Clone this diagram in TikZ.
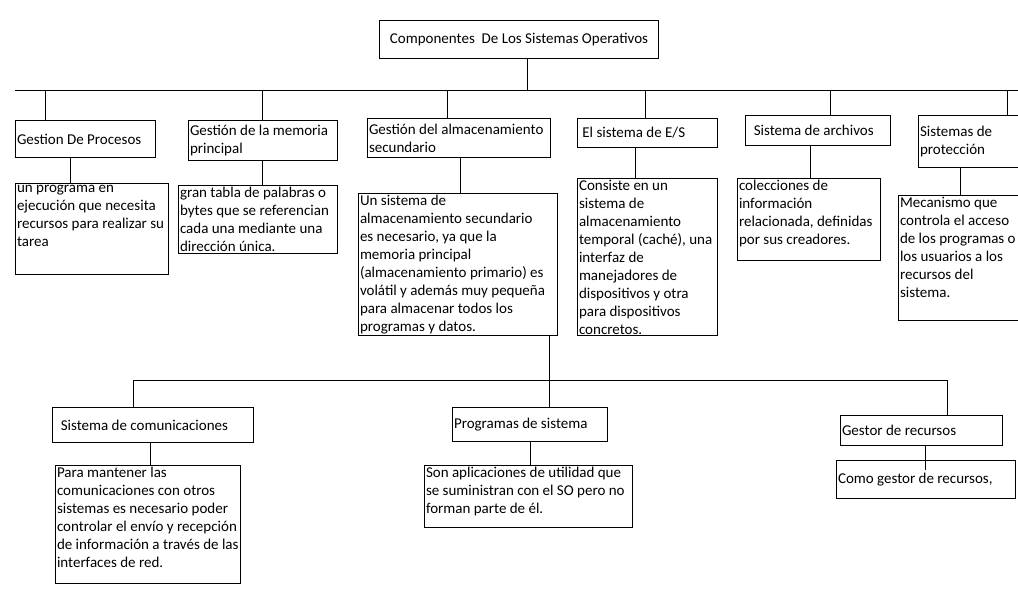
\documentclass[tikz,border=0pt]{standalone}
\usepackage{fontspec}
\setmainfont{Carlito}
\begin{document}
\begin{tikzpicture}[x=1pt,y=-1pt,line width=1pt,
  box/.style={draw,rectangle,anchor=north west,inner sep=0pt},
  txt/.style={align=left,inner sep=1.5pt,font=\fontsize{15}{18}\selectfont}]
\useasboundingbox (0,0) rectangle (1018,613);
\newcommand{\bx}[6]{\node[box,minimum width=#4,minimum height=#5] (#1) at (#2,#3) {};
  \node[txt,anchor=north west] at (#1.north west) {#6};}
\newcommand{\hx}[6]{\node[box,minimum width=#4,minimum height=#5] (#1) at (#2,#3) {};
  \node[txt,anchor=west] at (#1.west) {#6};}
% title
\node[box,minimum width=279,minimum height=38] (t) at (379,20) {};
\node[txt] at (t.center) {Componentes\ \ De Los Sistemas Operativos};
\hx{b1}{15}{120}{140}{37}{Gestion De Procesos}
\hx{b2}{188}{120}{149}{40}{Gestión de la memoria\\principal}
\hx{b3}{367}{118}{183}{39}{Gestión del almacenamiento\\secundario}
\hx{b4}{577}{118}{140}{29}{\ El sistema de E/S}
\hx{b5}{745}{115}{145}{30}{\ \ Sistema de archivos}
\hx{b6}{918}{115}{100}{52}{Sistemas de\\protección}
\bx{d1}{15}{183}{153}{91}{un programa en\\ejecución que necesita\\recursos para realizar su\\tarea}
\bx{d2}{178}{185}{159}{68}{gran tabla de palabras o\\bytes que se referencian\\cada una mediante una\\dirección única.}
\bx{d3}{358}{193}{199}{142}{Un sistema de\\almacenamiento secundario\\es necesario, ya que la\\memoria principal\\(almacenamiento primario) es\\volátil y además muy pequeña\\para almacenar todos los\\programas y datos.}
\bx{d4}{577}{178}{140}{157}{Consiste en un\\sistema de\\almacenamiento\\temporal (caché), una\\interfaz de\\manejadores de\\dispositivos y otra\\para dispositivos\\concretos.}
\bx{d5}{737}{178}{143}{82}{colecciones de\\información\\relacionada, definidas\\por sus creadores.}
\bx{d6}{898}{195}{120}{125}{Mecanismo que\\controla el acceso\\de los programas o\\los usuarios a los\\recursos del\\sistema.}
\hx{c1}{52}{407}{201}{35}{\ \ Sistema de comunicaciones}
\hx{c2}{452}{407}{155}{34}{Programas de sistema}
\hx{c3}{840}{415}{162}{30}{Gestor de recursos}
\bx{e1}{55}{465}{185}{118}{Para mantener las\\comunicaciones con otros\\sistemas es necesario poder\\controlar el envío y recepción\\de información a través de las\\interfaces de red.}
\bx{e2}{424}{465}{208}{62}{Son aplicaciones de utilidad que\\se suministran con el SO pero no\\forman parte de él.}
\hx{e3}{836}{460}{179}{38}{Como gestor de recursos,}
% top tree
\coordinate (tj) at (527,90);
\draw (t.south -| tj) -- (tj);
\draw (15,90) coordinate (hl) -- (1018,90) coordinate (hr);
\foreach \n/\x in {b1/45,b2/262,b3/447,b4/645,b5/830,b6/1007}
  \draw (\x,90) -- (\x,0 |- \n.north);
\foreach \n/\m/\x in {b1/d1/70,b2/d2/262,b3/d3/460,b4/d4/635,b5/d5/810,b6/d6/960}
  \draw (\x,0 |- \n.south) -- (\x,0 |- \m.north);
% bottom tree
\draw (549,0 |- d3.south) -- (549,0 |- c2.north);
\draw (133,380) -- (947,380);
\draw (133,380) -- (133,0 |- c1.north);
\draw (947,380) -- (947,0 |- c3.north);
\draw (150,0 |- c1.south) -- (150,0 |- e1.north);
\draw (530,0 |- c2.south) -- (530,0 |- e2.north);
\draw (925,0 |- c3.south) -- (925,470);
\end{tikzpicture}
\end{document}
